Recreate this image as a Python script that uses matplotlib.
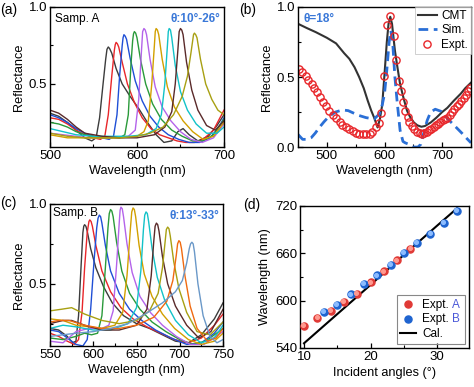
import numpy as np
import matplotlib
matplotlib.use('Agg')
import matplotlib.pyplot as plt
from matplotlib.ticker import MultipleLocator
from matplotlib.transforms import offset_copy
from matplotlib.patches import Rectangle

plt.rcParams['font.family'] = ['Liberation Sans', 'DejaVu Sans']
plt.rcParams['xtick.direction'] = 'in'
plt.rcParams['ytick.direction'] = 'in'

#%% data: panel (a), sample A spectra (10-26 deg)
colors_a = ['#3c3c3c', '#e8262a', '#1f4fd6', '#2a9a3a', '#b463ea', '#d2a000', '#12c2c8', '#5a2a2a', '#a8a012']
lam_a = [
    [500, 510, 520, 530, 540, 548, 553, 557, 561, 564, 565.5, 567, 568.5, 571, 576, 583, 592, 602, 612, 622, 631, 640, 647, 653, 660, 670, 682, 692, 700],
    [500, 510, 520, 530, 540, 550, 558, 563, 567, 571, 574, 575, 576, 577.5, 579, 583, 589, 597, 606, 616, 626, 636, 646, 656, 666, 676, 688, 700],
    [500, 510, 520, 530, 540, 550, 560, 568, 573, 577, 580, 583, 584, 585, 586.5, 588, 592, 598, 606, 615, 625, 636, 648, 660, 672, 684, 694, 700],
    [500, 510, 520, 530, 540, 550, 560, 570, 580, 586, 590, 593, 595, 596, 597, 598.5, 600, 604, 610, 618, 628, 640, 652, 664, 676, 688, 700],
    [500, 515, 530, 545, 560, 575, 590, 598, 602, 605, 606.5, 608, 609.5, 611, 615, 621, 629, 639, 650, 662, 675, 688, 700],
    [500, 520, 540, 560, 580, 600, 608, 613, 617, 620, 621, 622, 623.5, 625, 629, 635, 643, 653, 664, 676, 688, 700],
    [500, 515, 530, 550, 570, 590, 610, 622, 628, 632, 635, 636, 637, 638.5, 640, 644, 650, 658, 668, 680, 692, 700],
    [500, 510, 520, 530, 540, 560, 580, 600, 620, 632, 640, 644, 647, 648.5, 650, 651.5, 653, 657, 663, 670, 680, 690, 700],
    [500, 520, 540, 560, 580, 600, 615, 630, 642, 652, 658, 662, 664, 665, 666, 667.5, 669, 673, 679, 686, 693, 700],
]
R_a = [
    [.31, .29, .25, .20, .15, .13, .15, .28, .50, .66, .725, .74, .73, .70, .60, .50, .42, .34, .25, .17, .12, .13, .19, .21, .17, .13, .16, .23, .30],
    [.28, .27, .24, .20, .17, .15, .14, .16, .30, .55, .72, .755, .77, .76, .74, .64, .50, .38, .28, .21, .17, .15, .13, .12, .12, .14, .20, .33],
    [.30, .28, .25, .21, .18, .16, .15, .14, .16, .30, .55, .75, .80, .82, .81, .79, .67, .52, .39, .29, .22, .17, .14, .12, .12, .15, .22, .28],
    [.25, .24, .22, .19, .17, .16, .15, .15, .15, .17, .30, .62, .78, .825, .84, .83, .80, .66, .50, .37, .27, .20, .16, .13, .13, .17, .27],
    [.18, .17, .16, .15, .15, .15, .16, .20, .40, .70, .84, .86, .85, .82, .66, .48, .35, .26, .19, .14, .12, .15, .24],
    [.17, .15, .15, .15, .15, .16, .19, .26, .50, .75, .84, .86, .85, .82, .66, .48, .35, .26, .19, .14, .16, .25],
    [.21, .19, .17, .16, .16, .16, .17, .21, .30, .50, .75, .84, .86, .85, .80, .62, .45, .33, .24, .18, .18, .22],
    [.33, .31, .27, .22, .18, .16, .15, .15, .17, .22, .32, .50, .72, .84, .86, .85, .82, .64, .46, .33, .23, .20, .26],
    [.18, .16, .15, .15, .15, .16, .18, .22, .30, .42, .55, .70, .78, .82, .83, .82, .80, .66, .50, .40, .33, .30],
]

#%% data: panel (b), theta = 18 deg
lam_cmt = [450, 465, 481, 500, 516, 530, 539, 548, 556, 564, 571, 577, 582, 588, 592, 596, 600, 604, 607, 610, 613, 618,
           622, 627, 633, 639, 645, 651, 657, 664, 670, 680, 690, 700, 709, 720, 732, 740, 750]
R_cmt = [.88, .85, .82, .78, .74, .67, .63, .57, .50, .42, .33, .26, .21, .14, .20, .30, .52, .75, .88, .93, .88, .69,
         .58, .45, .35, .26, .21, .175, .155, .145, .15, .175, .21, .25, .28, .33, .38, .42, .46]
lam_sim = [450, 458, 466, 473, 480, 487, 495, 504, 515, 527, 537, 545, 556, 568, 582, 587, 591, 596, 600, 604, 608, 611,
           614, 618, 622, 627, 632, 636, 642, 650, 658, 663, 668, 674, 680, 688, 698, 710, 722, 734, 743, 750]
R_sim = [.09, .055, .055, .067, .10, .14, .18, .22, .25, .265, .26, .245, .225, .21, .20, .22, .235, .30, .38, .55, .75, .83,
         .76, .50, .32, .12, .04, .03, .02, .0, .0, .02, .10, .19, .25, .27, .255, .20, .15, .10, .06, .03]
lam_exp = [451, 457, 463, 468, 474, 478, 483, 488, 493, 498, 504, 510, 516, 522, 527, 533, 539, 545, 551, 556, 562, 568,
           574, 579, 585, 590, 594, 599, 604, 610, 616, 620, 625, 629, 632, 636, 640, 643, 647, 652, 656, 661, 665, 669,
           673, 677, 681, 685, 689, 693, 697, 701, 705, 709, 713, 717, 721, 725, 729, 733, 737, 741, 745, 749]
R_exp = [.56, .535, .51, .48, .45, .42, .39, .355, .32, .29, .26, .23, .205, .18, .16, .145, .13, .115, .103, .096, .09, .09,
         .096, .11, .145, .175, .24, .51, .87, .935, .79, .62, .47, .40, .32, .26, .215, .18, .15, .128, .11, .10, .096, .103,
         .11, .12, .13, .145, .155, .163, .18, .19, .20, .21, .23, .25, .27, .295, .31, .33, .35, .37, .40, .42]

#%% data: panel (c), sample B spectra (13-33 deg)
colors_c = ['#3c3c3c', '#e8262a', '#1f4fd6', '#2a9a3a', '#b463ea', '#d2a000', '#12c2c8', '#5a2a2a', '#a8a012', '#f06a10', '#6a98c8']
lam_c = [
    [550, 560, 570, 576, 580, 583, 586, 588, 589, 590, 591.5, 593, 597, 603, 612, 622, 635, 650, 665, 680, 695, 710, 725, 740, 750],
    [550, 560, 570, 578, 583, 587, 590, 593, 595, 596, 597.5, 599, 603, 610, 620, 632, 646, 662, 678, 694, 710, 725, 740, 750],
    [550, 560, 570, 580, 588, 593, 597, 601, 604, 605.5, 607, 608.5, 610, 614, 620, 630, 642, 656, 672, 690, 708, 725, 740, 750],
    [550, 565, 580, 590, 598, 605, 610, 614, 617, 618.5, 620, 621.5, 623, 627, 633, 642, 654, 668, 684, 700, 715, 730, 750],
    [550, 565, 580, 595, 610, 618, 623, 627, 630, 631, 632, 633.5, 635, 639, 645, 654, 666, 680, 696, 712, 728, 750],
    [550, 565, 580, 595, 610, 625, 634, 639, 643, 644.5, 646, 647.5, 649, 653, 659, 668, 680, 694, 710, 725, 740, 750],
    [550, 565, 580, 600, 620, 640, 650, 655, 658, 659.5, 661, 662.5, 664, 668, 674, 683, 695, 710, 725, 740, 750],
    [550, 565, 575, 590, 610, 630, 650, 662, 667, 670, 671.5, 673, 674.5, 676, 680, 686, 695, 708, 722, 736, 750],
    [550, 563, 575, 590, 610, 630, 650, 665, 675, 680, 683, 684.5, 686, 687.5, 689, 693, 699, 708, 720, 735, 750],
    [550, 560, 572, 590, 610, 630, 650, 670, 685, 692, 696, 697.5, 699, 700.5, 702, 706, 712, 720, 732, 742, 750],
    [550, 565, 580, 600, 620, 640, 660, 680, 695, 703, 708, 711, 712.5, 714, 715.5, 717, 721, 727, 735, 743, 750],
]
R_c = [
    [.22, .21, .17, .13, .14, .30, .62, .82, .86, .87, .86, .83, .72, .60, .48, .38, .30, .25, .22, .18, .14, .13, .18, .28, .38],
    [.19, .17, .14, .12, .15, .32, .60, .82, .89, .90, .89, .86, .74, .58, .45, .35, .28, .23, .19, .15, .13, .16, .24, .31],
    [.21, .20, .16, .12, .11, .15, .34, .65, .85, .91, .93, .92, .88, .74, .58, .44, .34, .27, .21, .16, .12, .13, .19, .26],
    [.16, .15, .17, .19, .18, .19, .30, .60, .85, .94, .965, .955, .92, .76, .58, .44, .34, .26, .20, .15, .12, .14, .22],
    [.14, .13, .20, .22, .22, .24, .33, .62, .88, .96, .98, .97, .92, .75, .57, .42, .32, .24, .17, .12, .12, .20],
    [.28, .27, .24, .23, .22, .24, .32, .55, .85, .95, .975, .965, .92, .74, .56, .42, .31, .22, .15, .12, .14, .19],
    [.22, .24, .23, .21, .21, .25, .35, .58, .84, .93, .95, .94, .89, .72, .54, .39, .27, .18, .13, .16, .24],
    [.25, .27, .27, .24, .21, .21, .24, .34, .55, .77, .86, .88, .87, .83, .67, .50, .36, .24, .16, .20, .34],
    [.33, .34, .35, .31, .27, .25, .27, .33, .44, .60, .76, .84, .855, .845, .80, .64, .47, .32, .20, .18, .26],
    [.26, .27, .27, .24, .22, .22, .24, .29, .39, .52, .68, .75, .77, .76, .72, .55, .36, .22, .14, .16, .22],
    [.17, .18, .19, .20, .22, .25, .31, .38, .45, .52, .63, .72, .75, .76, .75, .70, .50, .30, .17, .13, .15],
]

#%% data: panel (d), resonance wavelength vs incident angle
ang_A = [10, 12, 14, 16, 18, 20, 22, 24, 26]
wl_A = [568, 578, 587, 598, 609, 623, 637, 651, 666]
ang_B = [13, 15, 17, 19, 21, 23, 25, 27, 29, 31, 33]
wl_B = [586, 595, 608, 621, 632, 645, 661, 673, 685, 699, 714]
ang_cal = [10, 15, 20, 25, 30, 33]
wl_cal = [546, 583, 620, 658, 695, 717]
samples = ['A', 'B']

theta_col = '#3a78d8'
fs_tick = 9.5
fs_lab = 9.2

fig = plt.figure(figsize=(4.74, 3.87), dpi=100)
ax_a = fig.add_axes([0.1055, 0.620, 0.367, 0.362])
ax_b = fig.add_axes([0.6287, 0.620, 0.365, 0.362])
ax_c = fig.add_axes([0.1055, 0.106, 0.365, 0.367])
ax_d = fig.add_axes([0.633, 0.1008, 0.3565, 0.367])


def style(ax):
    for s in ax.spines.values():
        s.set_linewidth(1.0)
    ax.tick_params(which='major', length=3.5, width=0.9, labelsize=fs_tick, pad=2)
    ax.tick_params(which='minor', length=2, width=0.8)
    ax.tick_params(top=False, right=False, which='both')


# (a)
for i in range(len(lam_a)):
    ax_a.plot(lam_a[i], R_a[i], color=colors_a[i], lw=1.0)
ax_a.set_xlim(500, 700)
ax_a.set_ylim(0.09, 1.0)
ax_a.set_yticks([0.5, 1.0])
ax_a.set_yticklabels(['0.5', '1.0'])
ax_a.xaxis.set_major_locator(MultipleLocator(100))
ax_a.xaxis.set_minor_locator(MultipleLocator(50))
ax_a.yaxis.set_minor_locator(MultipleLocator(0.25))
ax_a.set_xlabel('Wavelength (nm)', fontsize=fs_lab, labelpad=2)
ax_a.set_ylabel('Reflectance', fontsize=fs_lab, labelpad=3)
ax_a.text(0.03, 0.96, 'Samp. A', transform=ax_a.transAxes, fontsize=8.5, va='top')
ax_a.text(0.98, 0.96, 'θ:10°-26°', transform=ax_a.transAxes, fontsize=8.5, va='top', ha='right',
          color=theta_col, fontweight='bold')
style(ax_a)

# (b)
ax_b.plot(lam_cmt, R_cmt, color='#333333', lw=1.5, label='CMT')
ax_b.plot(lam_sim, R_sim, color='#2a6fd6', lw=2.0, ls=(0, (3.5, 2)), label='Sim.')
ax_b.plot(lam_exp, R_exp, ls='none', marker='o', ms=5.2, mfc='none', mec='#e8262a', mew=1.0, label='Expt.')
ax_b.set_xlim(450, 750)
ax_b.set_ylim(0.0, 1.0)
ax_b.yaxis.set_major_locator(MultipleLocator(0.5))
ax_b.yaxis.set_minor_locator(MultipleLocator(0.25))
ax_b.xaxis.set_major_locator(MultipleLocator(100))
ax_b.xaxis.set_minor_locator(MultipleLocator(50))
ax_b.set_xlabel('Wavelength (nm)', fontsize=fs_lab, labelpad=2)
ax_b.set_ylabel('Reflectance', fontsize=fs_lab, labelpad=3)
ax_b.text(0.03, 0.96, 'θ=18°', transform=ax_b.transAxes, fontsize=8.5, va='top', color=theta_col, fontweight='bold')
leg = ax_b.legend(loc='upper right', fontsize=8.5, frameon=True, fancybox=False, edgecolor='#bbbbbb',
                  handlelength=1.6, handletextpad=0.4, borderpad=0.25, labelspacing=0.2, borderaxespad=0.0)
leg.get_frame().set_linewidth(0.6)
style(ax_b)

# (c)
for i in range(len(lam_c)):
    ax_c.plot(lam_c[i], R_c[i], color=colors_c[i], lw=1.0)
ax_c.set_xlim(550, 750)
ax_c.set_ylim(0.11, 1.0)
ax_c.set_yticks([0.5, 1.0])
ax_c.set_yticklabels(['0.5', '1.0'])
ax_c.xaxis.set_major_locator(MultipleLocator(50))
ax_c.xaxis.set_minor_locator(MultipleLocator(25))
ax_c.yaxis.set_minor_locator(MultipleLocator(0.25))
ax_c.set_xlabel('Wavelength (nm)', fontsize=fs_lab, labelpad=2)
ax_c.set_ylabel('Reflectance', fontsize=fs_lab, labelpad=3)
ax_c.text(0.02, 0.975, 'Samp. B', transform=ax_c.transAxes, fontsize=8.5, va='top')
ax_c.text(0.98, 0.96, 'θ:13°-33°', transform=ax_c.transAxes, fontsize=8.5, va='top', ha='right',
          color=theta_col, fontweight='bold')
style(ax_c)

# (d)
hl = offset_copy(ax_d.transData, fig=fig, x=-0.8, y=0.8, units='dots')
ax_d.plot(ang_cal, wl_cal, color='black', lw=1.5, label='Cal.', zorder=2)
ax_d.scatter(ang_A, wl_A, s=26, color='#e03a36', label='Expt.', zorder=3)
ax_d.scatter(ang_A, wl_A, s=7, color='#ff9a90', transform=hl, zorder=4)
ax_d.scatter(ang_B, wl_B, s=26, color='#1f64d0', label='Expt.', zorder=3)
ax_d.scatter(ang_B, wl_B, s=7, color='#8cbcff', transform=hl, zorder=4)
ax_d.set_xlim(9.4, 34.8)
ax_d.set_ylim(540, 720)
ax_d.yaxis.set_major_locator(MultipleLocator(60))
ax_d.yaxis.set_minor_locator(MultipleLocator(30))
ax_d.xaxis.set_major_locator(MultipleLocator(10))
ax_d.xaxis.set_minor_locator(MultipleLocator(5))
ax_d.set_xlabel('Incident angles (°)', fontsize=fs_lab, labelpad=3)
ax_d.set_ylabel('Wavelength (nm)', fontsize=fs_lab, labelpad=3)
h, l = ax_d.get_legend_handles_labels()
leg_d = ax_d.legend([h[1], h[2], h[0]], [l[1], l[2], l[0]], loc='lower right', fontsize=8.5, frameon=False,
                    handlelength=1.4, handletextpad=0.5, borderpad=0.4, labelspacing=0.25,
                    bbox_to_anchor=(0.91, 0.02), borderaxespad=0.0)
style(ax_d)

# panel letters
fig.text(0.0, 0.975, '(a)', fontsize=10, va='center', ha='left')
fig.text(0.505, 0.975, '(b)', fontsize=10, va='center', ha='left')
fig.text(0.0, 0.475, '(c)', fontsize=10, va='center', ha='left')
fig.text(0.513, 0.47, '(d)', fontsize=10, va='center', ha='left')

# coloured sample letters after "Expt." in legend (d), and a frame around the whole legend
fig.canvas.draw()
W, H = fig.canvas.get_width_height()
x_right = 0
for t, s in zip(leg_d.get_texts()[:2], samples):
    bb = t.get_window_extent()
    ts = fig.text((bb.x1 + 3) / W, bb.y0 / H, s, fontsize=8.5, color='#4a58d8', va='bottom', ha='left')
    x_right = max(x_right, ts.get_window_extent().x1)
lb = leg_d.get_window_extent()
x0, y0 = lb.x0 + 2, lb.y0 + 1
fig.patches.append(Rectangle((x0 / W, y0 / H), (x_right + 5 - x0) / W, (lb.y1 - 1 - y0) / H,
                             transform=fig.transFigure, fill=False, ec='#888888', lw=0.8, zorder=1))

fig.savefig('out.png', dpi=100)
